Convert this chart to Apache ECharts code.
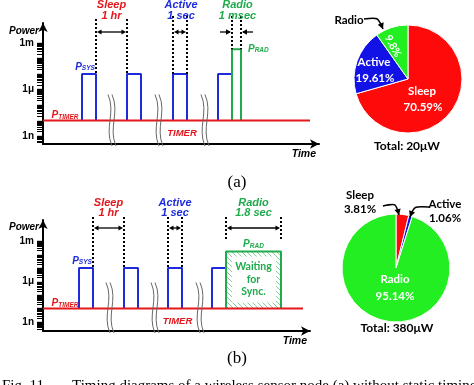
<!DOCTYPE html>
<html><head><meta charset="utf-8">
<script src="https://cdn.jsdelivr.net/npm/echarts@6/dist/echarts.min.js"></script>
<style>html,body{margin:0;padding:0;background:#fff}#c{width:474px;height:385px}</style>
</head><body><div id="c"></div>
<script>
// ---------- data ----------
const powerTickValues = [1e-9, 1e-6, 1e-3];
const powerTickLabels = ['1n', '1μ', '1m'];
const timerPower = 1e-8;      // P_TIMER
const sysPower = 1e-5;        // P_SYS
const radioPowerA = 4e-4;     // P_RAD in (a)
const radioPowerB = 1.7e-4;   // P_RAD in (b)
const pulsesA = [[39, 53], [84, 98], [130, 144], [175, 189]];
const radioA = [189, 198];
const pulsesB = [[36, 50], [81, 95], [125, 139], [169, 183]];
const radioB = [183, 238];
const timerEndA = 267, timerEndB = 260;
const timeMaxA = 276, timeMaxB = 267;
const breaksA = [67, 114, 160];
const breaksB = [65, 110, 155];
const phaseNames = ['Sleep', 'Active', 'Radio'];
const phaseDurA = ['1 hr', '1 sec', '1 msec'];
const phaseDurB = ['1 hr', '1 sec', '1.8 sec'];
const pieCats = ['Sleep', 'Active', 'Radio'];
const pieA = [70.59, 19.61, 9.8];
const pieB = [3.81, 1.06, 95.14];
const totalA = 'Total: 20μW';
const totalB = 'Total: 380μW';

// ---------- style ----------
const RED = '#e3171c', BLUE = '#1c2bdc', GREEN = '#1faa4c';
const PIE_COLORS = ['#ff0a0a', '#1212e6', '#22ee22'];
const FONT = '"Liberation Sans", Arial, sans-serif';
const PFONT = 'Lato, "Open Sans", sans-serif';

function labelFor(v) {
  const e = Math.log10(v);
  const i = powerTickValues.findIndex(t => Math.abs(Math.log10(t) - e) < 0.05);
  return i >= 0 ? powerTickLabels[i] : '';
}
function yAxisCfg(gi, lo, hi) {
  return {
    type: 'log', logBase: 10, gridIndex: gi, min: Math.pow(10, lo), max: Math.pow(10, hi), splitNumber: 8,
    axisLine: { show: true, lineStyle: { color: '#000', width: 2 }, symbol: ['none', 'arrow'], symbolSize: [7, 9] },
    axisTick: { show: false },
    splitLine: { show: false },
    axisLabel: { formatter: labelFor, fontFamily: FONT, fontWeight: 'bold', fontSize: 10, color: '#000', margin: 9, showMinLabel: true, showMaxLabel: true }
  };
}
function xAxisCfg(gi, max) {
  return {
    type: 'value', gridIndex: gi, min: 0, max: max,
    axisLine: { show: true, onZero: false, lineStyle: { color: '#000', width: 2 }, symbol: ['none', 'arrow'], symbolSize: [7, 9] },
    axisTick: { show: false }, axisLabel: { show: false }, splitLine: { show: false }
  };
}
function lineS(gi, data, color, z) {
  return { type: 'line', xAxisIndex: gi, yAxisIndex: gi, data: data, symbol: 'none', silent: true, animation: false,
    lineStyle: { color: color, width: 2 }, z: z || 3 };
}
function pulseSeries(gi, pulses, level, color) {
  return pulses.map(p => lineS(gi, [[p[0], timerPower], [p[0], level], [p[1], level], [p[1], timerPower]], color));
}
const hatch = document.createElement('canvas');
hatch.width = hatch.height = 5;
(function () {
  const g = hatch.getContext('2d');
  g.strokeStyle = '#86cf9e'; g.lineWidth = 1;
  g.beginPath(); g.moveTo(-1, -1); g.lineTo(6, 6); g.moveTo(-1, 4); g.lineTo(1, 6); g.moveTo(4, -1); g.lineTo(6, 1); g.stroke();
})();

function pieSeries(center, vals) {
  return {
    type: 'pie', center: center, radius: 54, startAngle: 90, clockwise: true, silent: true, animation: false,
    itemStyle: { borderColor: '#fff', borderWidth: 1 },
    labelLine: { show: false }, label: { show: false },
    data: pieCats.map((n, i) => ({ name: n, value: vals[i], itemStyle: { color: PIE_COLORS[i] } }))
  };
}

const series = [].concat(
  pulseSeries(0, pulsesA, sysPower, BLUE),
  [lineS(0, [[radioA[0], timerPower], [radioA[0], radioPowerA], [radioA[1], radioPowerA], [radioA[1], timerPower]], GREEN)],
  [lineS(0, [[0, timerPower], [timerEndA, timerPower]], RED, 4)],
  pulseSeries(1, pulsesB, sysPower, BLUE),
  [{
    type: 'custom', xAxisIndex: 1, yAxisIndex: 1, silent: true, animation: false, z: 2,
    data: [[radioB[0], radioB[1], radioPowerB, timerPower]],
    encode: { x: [0, 1], y: [2, 3] },
    renderItem: (params, api) => {
      const a = api.coord([api.value(0), api.value(2)]);
      const b = api.coord([api.value(1), api.value(3)]);
      const x = a[0], y = a[1], w = b[0] - a[0], h = b[1] - a[1];
      return { type: 'group', children: [
        { type: 'rect', shape: { x: x, y: y, width: w, height: h }, style: { fill: { image: hatch, repeat: 'repeat' } } },
        { type: 'rect', shape: { x: x + 6, y: y + 5, width: w - 11, height: h - 11 }, style: { fill: '#fff' } }
      ] };
    }
  }],
  [lineS(1, [[radioB[0], timerPower], [radioB[0], radioPowerB], [radioB[1], radioPowerB], [radioB[1], timerPower]], GREEN)],
  [lineS(1, [[0, timerPower], [timerEndB, timerPower]], RED, 4)],
  [pieSeries([408, 79], pieA)],
  [pieSeries([396, 268], pieB)]
);

const chart = echarts.init(document.getElementById('c'), null, { renderer: 'canvas' });
chart.setOption({
  animation: false,
  grid: [
    { left: 43, top: 23, width: timeMaxA, height: 121, outerBoundsMode: 'none' },
    { left: 43, top: 220, width: timeMaxB, height: 111, outerBoundsMode: 'none' }
  ],
  xAxis: [xAxisCfg(0, timeMaxA), xAxisCfg(1, timeMaxB)],
  yAxis: [yAxisCfg(0, -9.516, -1.71), yAxisCfg(1, -9.667, -1.444)],
  series: series
});

// ---------- annotations ----------
const G = [];
function px(gi, x, y) { return chart.convertToPixel({ gridIndex: gi }, [x, y]); }
function txt(x, y, text, color, font, align, rot) {
  G.push({ type: 'text', x: x, y: y, rotation: rot || 0, silent: true, z: 30,
    style: { text: text, fill: color, font: font, align: align || 'center', verticalAlign: 'middle' } });
}
function sub(x, y, main, s, color, align) {
  G.push({ type: 'text', x: x, y: y, silent: true, z: 30,
    style: { text: '{a|' + main + '}{b|' + s + '}', align: align || 'center', verticalAlign: 'middle',
      rich: { a: { fill: color, font: 'italic bold 10px ' + FONT, verticalAlign: 'bottom' },
              b: { fill: color, font: 'italic bold 6.5px ' + FONT, verticalAlign: 'bottom' } } } });
}
function seg(x1, y1, x2, y2, dash, w) {
  G.push({ type: 'line', silent: true, z: 20, shape: { x1: x1, y1: y1, x2: x2, y2: y2 },
    style: { stroke: '#000', lineWidth: w || 1.3, lineDash: dash || null } });
}
function head(x, y, ang, len, wd) {
  len = len || 5; wd = wd || 2.8;
  const c = Math.cos(ang), s = Math.sin(ang);
  G.push({ type: 'polygon', silent: true, z: 21, shape: { points: [[x, y],
    [x - len * c - wd * s, y - len * s + wd * c], [x - len * c + wd * s, y - len * s - wd * c]] }, style: { fill: '#000' } });
}
function curveArrow(x1, y1, cx, cy, x2, y2) {
  G.push({ type: 'bezierCurve', silent: true, z: 20, shape: { x1: x1, y1: y1, cpx1: cx, cpy1: cy, cpx2: cx, cpy2: cy, x2: x2, y2: y2 },
    style: { stroke: '#000', lineWidth: 1.5, fill: null } });
  head(x2, y2, Math.atan2(y2 - cy, x2 - cx), 6, 3.2);
}
function breakMark(x, top, bot) {
  const h = bot - top;
  [0, 4].forEach(d => G.push({ type: 'bezierCurve', silent: true, z: 12,
    shape: { x1: x + d - 2, y1: top, cpx1: x + d + 6, cpy1: top + h * 0.35, cpx2: x + d - 6, cpy2: top + h * 0.65, x2: x + d + 2, y2: bot },
    style: { stroke: '#666', lineWidth: 1, fill: null } }));
}
function logTicks(gi, yMin) {
  const org = px(gi, 0, yMin);
  for (let k = -10; k <= -3; k++) {
    for (let m = 1; m <= 9; m++) {
      const v = m * Math.pow(10, k);
      if (v < yMin || v > 1.2e-3) continue;
      const y = Math.round(px(gi, 0, v)[1]) + 0.5;
      if (y > org[1] - 1) continue;
      G.push({ type: 'line', silent: true, z: 15, shape: { x1: org[0] - 6, y1: y, x2: org[0], y2: y },
        style: { stroke: '#000', lineWidth: m === 1 ? 1.4 : 1 } });
    }
  }
}

const IT = 'italic bold 11px ' + FONT;
function diagram(gi, pulses, radio, radioPow, durs, breaks, lay) {
  const sysY = px(gi, 0, sysPower)[1];
  const radY = px(gi, 0, radioPow)[1];
  const timY = px(gi, 0, timerPower)[1];
  const org = px(gi, 0, lay.yMin);
  const axY = org[1], axX = org[0];
  logTicks(gi, lay.yMin);
  const spans = [[pulses[0][1], pulses[1][0]], pulses[2], radio];
  const colors = [RED, BLUE, GREEN];
  spans.forEach((sp, i) => {
    const xa = px(gi, sp[0], sysPower)[0], xb = px(gi, sp[1], sysPower)[0];
    const bottom = i === 2 ? radY - lay.radGap : sysY;
    seg(xa, lay.dashTop[i], xa, bottom, [2, 2], 2);
    seg(xb, lay.dashTop[i], xb, bottom, [2, 2], 2);
    const cx = (xa + xb) / 2 + lay.txtShift[i];
    txt(cx, lay.nameY, phaseNames[i], colors[i], IT);
    txt(cx, lay.durY, durs[i], colors[i], IT);
    if (lay.outer && i === 2) {
      seg(xa - 12, lay.arrowY, xa - 2, lay.arrowY); head(xa - 1, lay.arrowY, 0);
      seg(xb + 12, lay.arrowY, xb + 2, lay.arrowY); head(xb + 1, lay.arrowY, Math.PI);
    } else {
      seg(xa + 3, lay.arrowY, xb - 3, lay.arrowY);
      head(xa + 1, lay.arrowY, Math.PI, 4.5, 2.6); head(xb - 1, lay.arrowY, 0, 4.5, 2.6);
    }
  });
  breaks.forEach(b => breakMark(px(gi, b, timerPower)[0], timY - 26, axY + 2));
  const p1 = (px(gi, pulses[0][0], sysPower)[0] + px(gi, pulses[0][1], sysPower)[0]) / 2;
  sub(p1 - 4, sysY - 7, 'P', 'SYS', BLUE);
  sub(axX + 22, timY - 5, 'P', 'TIMER', RED);
  const ra = px(gi, radio[0], radioPow)[0], rb = px(gi, radio[1], radioPow)[0];
  if (lay.outer) sub(rb + 7, radY, 'P', 'RAD', GREEN, 'left');
  else sub((ra + rb) / 2, radY - 7, 'P', 'RAD', GREEN);
  const bx = (px(gi, breaks[1], timerPower)[0] + px(gi, breaks[2], timerPower)[0]) / 2 + 2;
  txt(bx, timY + 13, 'TIMER', RED, 'italic bold 9.5px ' + FONT);
  const xEnd = px(gi, lay.xMax, timerPower)[0];
  txt(xEnd - 3, axY + 10, 'Time', '#000', 'italic bold 10.5px ' + FONT, 'right');
  txt(axX - 4, lay.powerY, 'Power', '#000', 'italic bold 10px ' + FONT, 'right');
  if (!lay.outer) {
    const wx = (ra + rb) / 2, top = radY;
    const WF = 'bold 10.5px ' + PFONT;
    txt(wx, top + 15, 'Waiting', GREEN, WF);
    txt(wx, top + 28, 'for', GREEN, WF);
    txt(wx, top + 40, 'Sync.', GREEN, WF);
  }
}
diagram(0, pulsesA, radioA, radioPowerA, phaseDurA, breaksA,
  { yMin: Math.pow(10, -9.516), xMax: timeMaxA, dashTop: [19, 16, 16], nameY: 5, durY: 16, arrowY: 32, radGap: 0, outer: true, txtShift: [0, 1, 1], powerY: 31 });
diagram(1, pulsesB, radioB, radioPowerB, phaseDurB, breaksB,
  { yMin: Math.pow(10, -9.667), xMax: timeMaxB, dashTop: [217, 217, 217], nameY: 203, durY: 213, arrowY: 228, radGap: 11, outer: false, txtShift: [0, 0, 0], powerY: 227 });

// pie labels and annotations
const PB = 'bold 11.5px ' + PFONT;
txt(422, 91, pieCats[0], '#fff', PB);
txt(423, 107, pieA[0] + '%', '#fff', PB);
txt(374, 62, pieCats[1], '#fff', PB);
txt(375, 78, pieA[1] + '%', '#fff', PB);
txt(393, 46, pieA[2] + '%', '#fff', 'bold 10.5px ' + PFONT, 'center', -62 * Math.PI / 180);
txt(349, 20, pieCats[2], '#000', PB);
curveArrow(364, 19, 378, 17, 383, 29);
txt(407, 146, totalA, '#000', 'bold 12px ' + PFONT);
txt(360, 195, pieCats[0], '#000', PB);
txt(360, 209, pieB[0] + '%', '#000', PB);
curveArrow(383, 206, 396, 203, 399, 215);
txt(445, 204, pieCats[1], '#000', PB);
txt(445, 218, pieB[1] + '%', '#000', PB);
curveArrow(429, 207, 414, 206, 410, 217);
txt(395, 279, pieCats[2], '#fff', PB);
txt(395, 296, pieB[2] + '%', '#fff', PB);
txt(397, 328, totalB, '#000', 'bold 12px ' + PFONT);

// panel letters and caption
txt(237, 183, '(a)', '#000', '17px "Liberation Serif", serif');
txt(237, 359, '(b)', '#000', '17px "Liberation Serif", serif');
G.push({ type: 'text', x: 2, y: 379, silent: true, style: { text: 'Fig. 11.', fill: '#000', font: '15px "Liberation Serif", serif', align: 'left', verticalAlign: 'top' } });
G.push({ type: 'text', x: 72, y: 379, silent: true, style: { text: 'Timing diagrams of a wireless sensor node (a) without static timing', fill: '#000', font: '15px "Liberation Serif", serif', align: 'left', verticalAlign: 'top' } });

chart.setOption({ graphic: G });
</script></body></html>
